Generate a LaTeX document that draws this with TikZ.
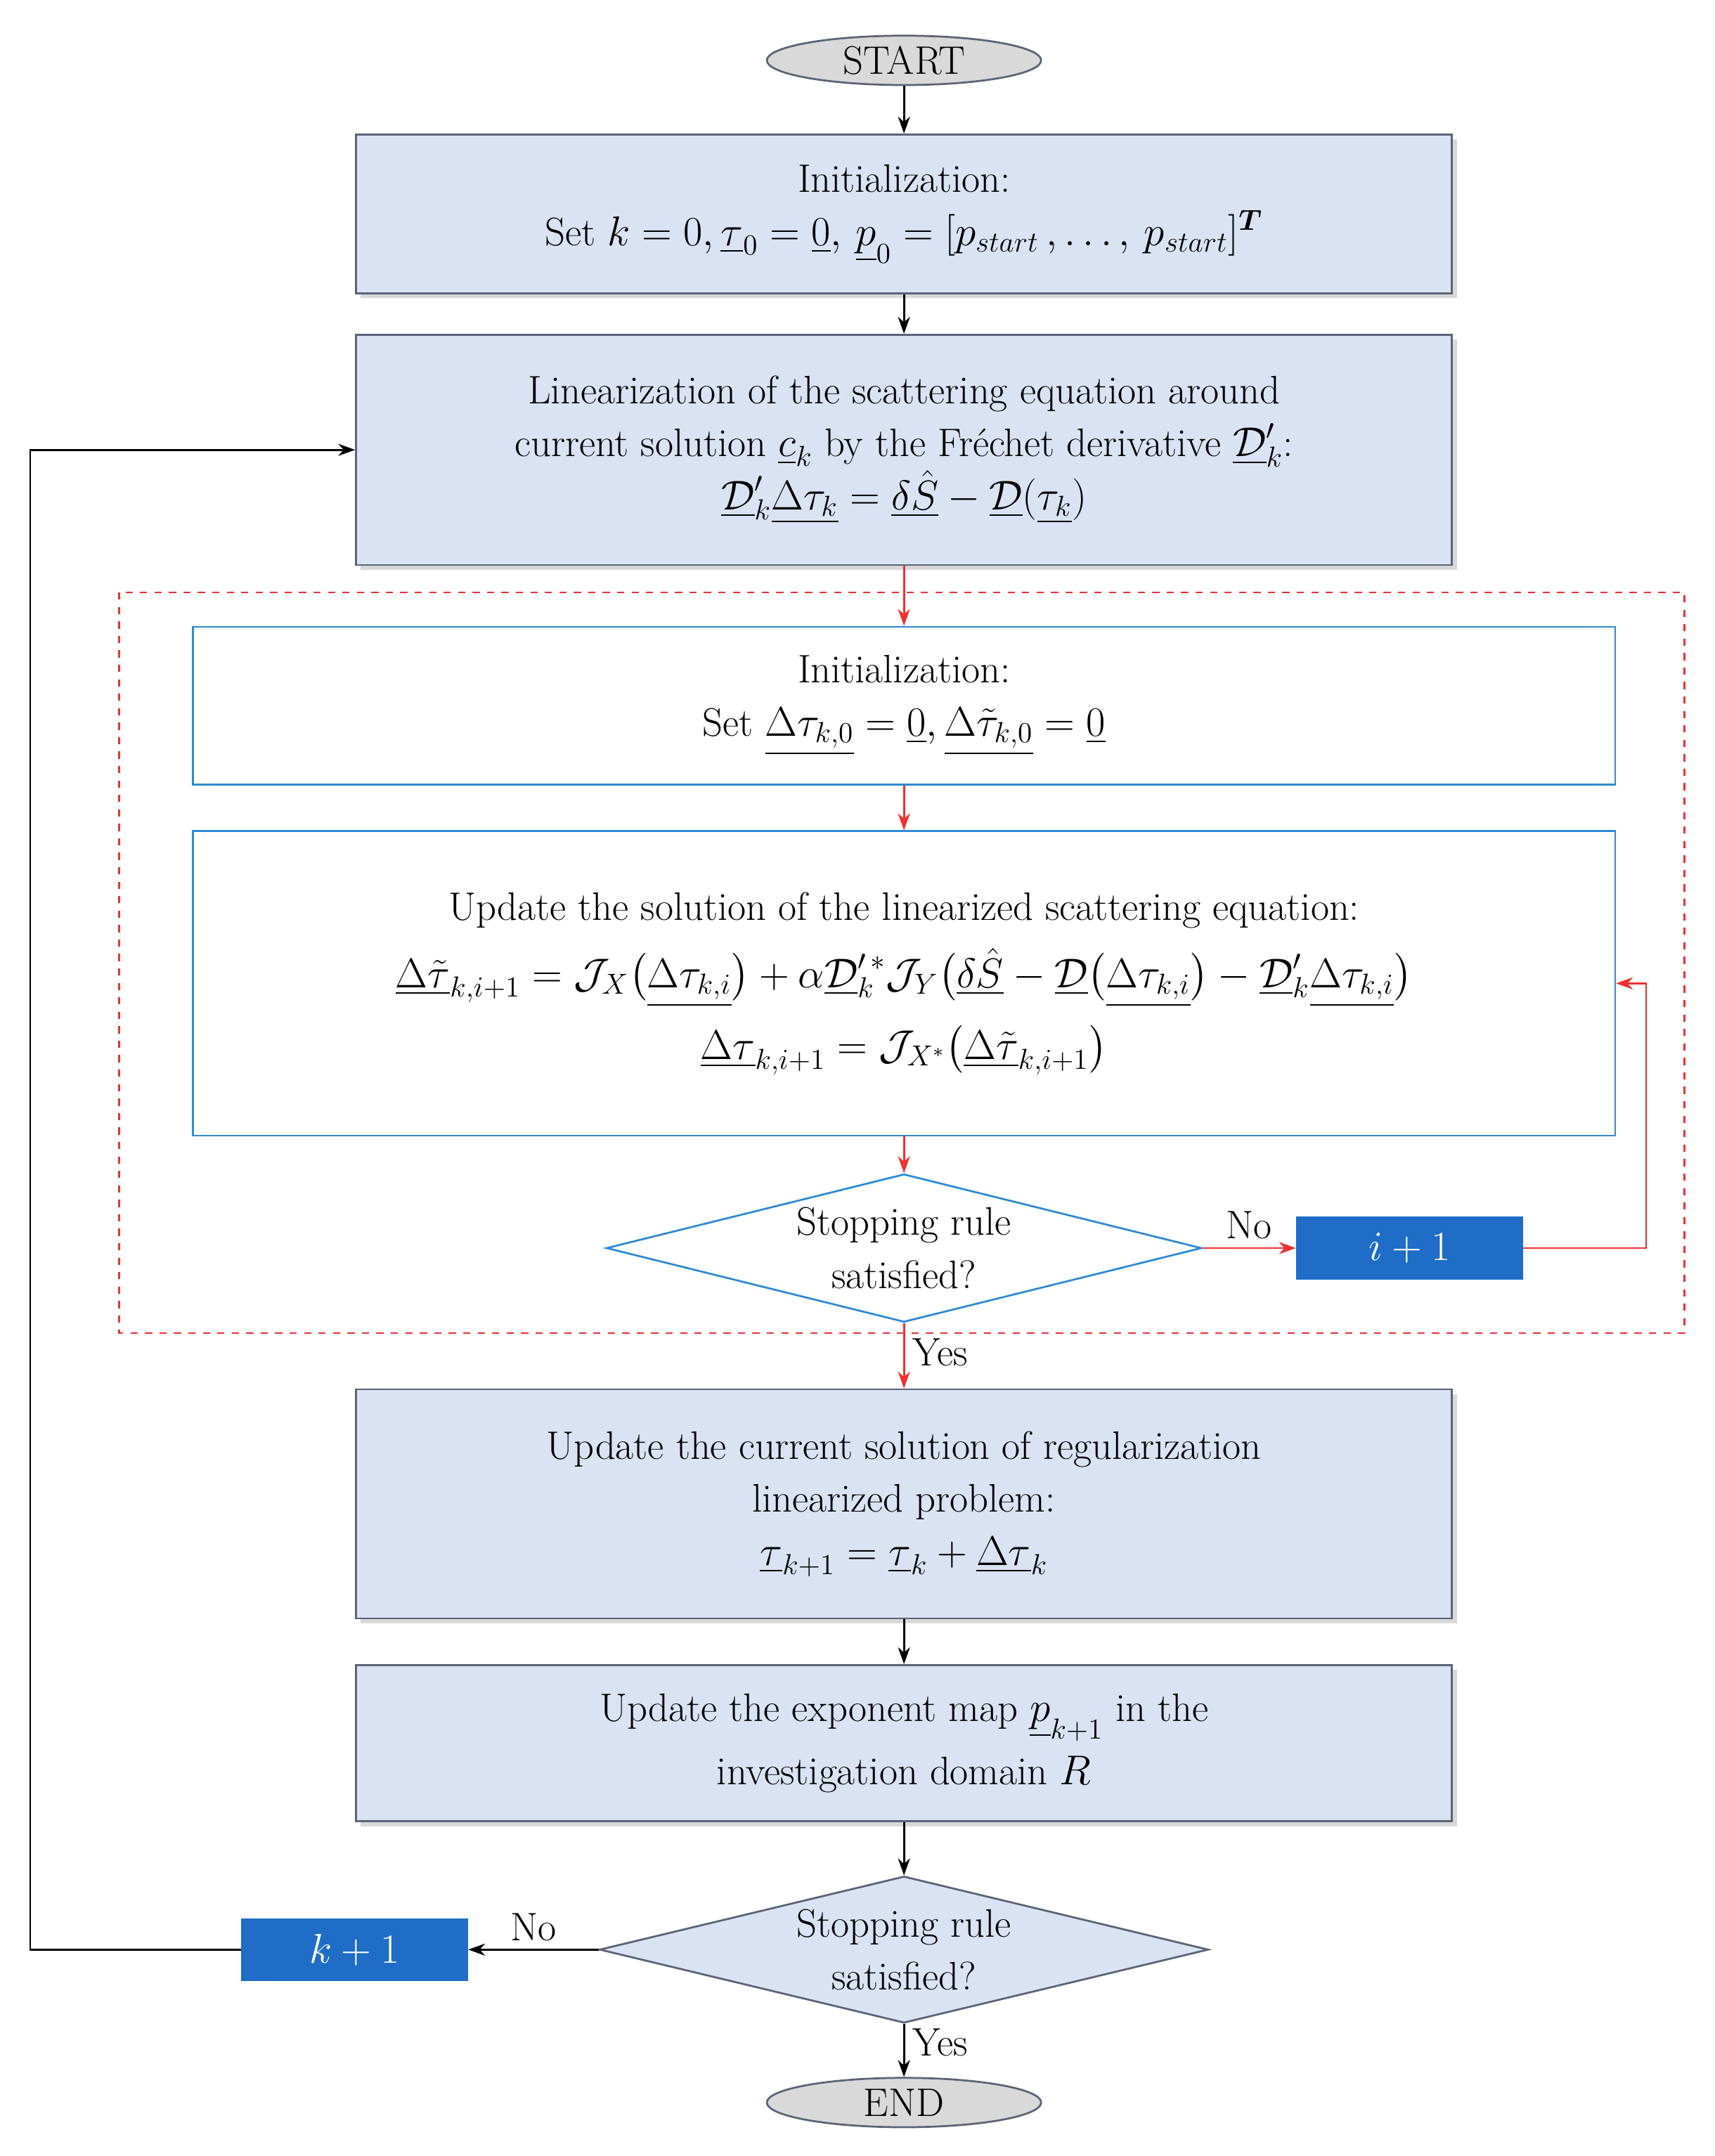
\documentclass[tikz,border=0pt]{standalone}
\usepackage{amsmath,amssymb}
\usetikzlibrary{shapes.geometric,arrows.meta,shadows}
\definecolor{lb}{HTML}{DAE3F3}
\definecolor{bd}{HTML}{5A6478}
\definecolor{bl}{HTML}{2E8BD6}
\definecolor{db}{HTML}{1F6DC6}
\definecolor{rd}{HTML}{F03030}
\definecolor{gr}{HTML}{D9D9D9}
\begin{document}
\begin{tikzpicture}[x=0.02cm,y=-0.02cm,
  every node/.style={font=\fontsize{16.5}{22}\selectfont},
  bbox/.style={draw=bd,fill=lb,thick,drop shadow={shadow xshift=2pt,shadow yshift=-2pt,fill=gray!60},align=center,minimum width=15.98cm},
  wbox/.style={draw=bl,fill=white,thick,align=center,minimum width=20.74cm},
  kbox/.style={draw=db,fill=db,text=white,minimum width=3.3cm,minimum height=0.9cm},
  ell/.style={ellipse,draw=bd,fill=gr,thick,minimum width=4cm,minimum height=0.72cm,inner sep=0},
  arr/.style={-{Stealth[length=7pt,width=5pt]},thick},
  rarr/.style={arr,draw=rd}]
\useasboundingbox (0,0) rectangle (1250,1572);
\draw[rd,dashed,thick] (87,432) rectangle (1228,972);
\node[ell] (start) at (659,44) {START};
\node[bbox,minimum height=2.32cm] (b1) at (659,156) {Initialization:\\ Set $k=0,\underline{\tau}_0=\underline{0},\,\underline{p}_0=[p_{start}\,,\dots,\,p_{start}]^{\boldsymbol T}$};
\node[bbox,minimum height=3.36cm] (b2) at (659,328) {Linearization of the scattering equation around\\ current solution $\underline{c}_k$ by the Fr\'echet derivative $\underline{\mathcal D}'_k$:\\ $\underline{\mathcal D}'_k\underline{\Delta\tau_k}=\underline{\delta\hat S}-\underline{\mathcal D}(\underline{\tau_k})$};
\node[wbox,minimum height=2.3cm] (b3) at (659,514.5) {Initialization:\\ Set $\underline{\Delta\tau_{k,0}}=\underline{0},\underline{\Delta\tilde\tau_{k,0}}=\underline{0}$};
\node[wbox,minimum height=4.44cm] (b4) at (659,717) {Update the solution of the linearized scattering equation:\\[6pt] $\underline{\Delta\tilde\tau}_{k,i+1}=\mathcal J_X\big(\underline{\Delta\tau_{k,i}}\big)+\alpha\underline{\mathcal D}'^{\,*}_k\mathcal J_Y\big(\underline{\delta\hat S}-\underline{\mathcal D}\big(\underline{\Delta\tau_{k,i}}\big)-\underline{\mathcal D}'_k\underline{\Delta\tau_{k,i}}\big)$\\[6pt] $\underline{\Delta\tau}_{k,i+1}=\mathcal J_{X^*}\big(\underline{\Delta\tilde\tau}_{k,i+1}\big)$};
\node[diamond,draw=bl,fill=white,thick,minimum width=8.68cm,minimum height=2.16cm,inner sep=0] (d1) at (659,910) {};
\node[align=center] at (d1) {Stopping rule\\ satisfied?};
\node[kbox] (i1) at (1027.5,910) {$i+1$};
\node[bbox,minimum height=3.34cm] (b5) at (659,1096.5) {Update the current solution of regularization\\ linearized problem:\\ $\underline{\tau}_{k+1}=\underline{\tau}_k+\underline{\Delta\tau}_k$};
\node[bbox,minimum height=2.28cm] (b6) at (659,1271) {Update the exponent map $\underline{p}_{k+1}$ in the\\[4pt] investigation domain $R$};
\node[diamond,draw=bd,fill=lb,thick,minimum width=8.88cm,minimum height=2.14cm,inner sep=0] (d2) at (659,1421.5) {};
\node[align=center] at (d2) {Stopping rule\\ satisfied?};
\node[kbox] (k1) at (258.5,1421.5) {$k+1$};
\node[ell] (end) at (659,1533) {END};
\coordinate (lc) at (22,1421.5);
\coordinate (rc) at (1200,910);
\draw[arr] (start) -- (b1);
\draw[arr] (b1) -- (b2);
\draw[rarr] (b2) -- (b3);
\draw[rarr] (b3) -- (b4);
\draw[rarr] (b4) -- (d1);
\draw[rarr] (d1.east) -- node[above,text=black]{No} (i1.west);
\draw[rarr] (i1.east) -- (rc) |- (b4.east);
\draw[rarr] (d1.south) -- node[right,text=black,pos=0.45]{Yes} (b5.north);
\draw[arr] (b5) -- (b6);
\draw[arr] (b6) -- (d2);
\draw[arr] (d2.south) -- node[right,pos=0.35]{Yes} (end);
\draw[arr] (d2.west) -- node[above]{No} (k1.east);
\draw[arr] (k1.west) -- (lc) |- (b2.west);
\end{tikzpicture}
\end{document}
